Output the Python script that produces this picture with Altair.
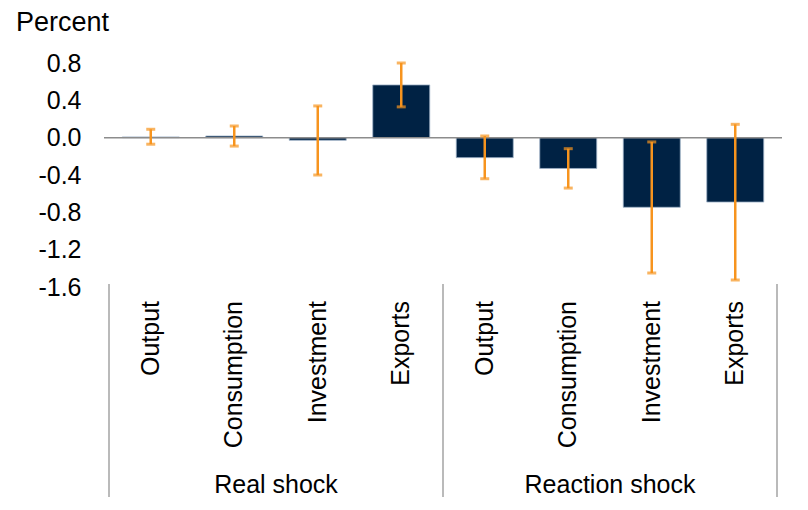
import altair as alt
import pandas as pd

shocks = ["Real shock", "Reaction shock"]
categories = ["Output", "Consumption", "Investment", "Exports"]
values = [0.008, 0.018, -0.028, 0.565, -0.214, -0.33, -0.746, -0.69]
lower = [-0.07, -0.09, -0.40, 0.33, -0.44, -0.54, -1.45, -1.525]
upper = [0.09, 0.125, 0.34, 0.80, 0.018, -0.118, -0.046, 0.143]
y_ticks = [-1.6, -1.2, -0.8, -0.4, 0.0, 0.4, 0.8]
group_bounds = [-0.5, 3.5, 7.5]

rows = []
for i in range(len(values)):
    rows.append({
        "idx": i,
        "shock": shocks[i // 4],
        "cat": categories[i % 4],
        "value": values[i],
        "lo": lower[i],
        "hi": upper[i],
    })
df = pd.DataFrame(rows)
bounds = pd.DataFrame({"b": group_bounds})

FONT = "Liberation Sans"
NAVY = "#002244"
ORANGE = "#F7941E"

xs = alt.Scale(domain=[-0.5, 7.5], nice=False, zero=False)
ys = alt.Scale(domain=[-1.6, 0.8], nice=False)
yaxis = alt.Axis(
    values=y_ticks,
    labelExpr="replace(format(datum.value, '.1f'), '\u2212', '-')",
    title=None,
)

base = alt.Chart(df)

bars = base.mark_bar(size=57, color=NAVY, stroke="#9fb3c8", strokeWidth=0.8).encode(
    x=alt.X("idx:Q", scale=xs, axis=None),
    y=alt.Y("value:Q", scale=ys, axis=yaxis),
)

zero = alt.Chart(pd.DataFrame({"z": [0]})).mark_rule(color="#8c8c8c", strokeWidth=1.5).encode(
    y=alt.Y("z:Q", scale=ys, axis=yaxis),
    x=alt.value(0),
    x2=alt.value(678),
)

err = base.mark_rule(color=ORANGE, strokeWidth=2.5).encode(
    x=alt.X("idx:Q", scale=xs, axis=None),
    y=alt.Y("lo:Q", scale=ys, axis=yaxis),
    y2="hi:Q",
)

cap_lo = base.mark_tick(color=ORANGE, orient="horizontal", size=9, thickness=3).encode(
    x=alt.X("idx:Q", scale=xs, axis=None),
    y=alt.Y("lo:Q", scale=ys, axis=yaxis),
)
cap_hi = base.mark_tick(color=ORANGE, orient="horizontal", size=9, thickness=3).encode(
    x=alt.X("idx:Q", scale=xs, axis=None),
    y=alt.Y("hi:Q", scale=ys, axis=yaxis),
)

cat_labels = base.mark_text(
    angle=270, align="right", baseline="middle", fontSize=25, font=FONT, color="black"
).encode(
    x=alt.X("idx:Q", scale=xs, axis=None),
    y=alt.value(238),
    text="cat:N",
)

group_labels = base.transform_aggregate(
    center="mean(idx)", groupby=["shock"]
).mark_text(
    align="center", baseline="alphabetic", fontSize=25, font=FONT, color="black"
).encode(
    x=alt.X("center:Q", scale=xs, axis=None),
    y=alt.value(430),
    text="shock:N",
)

seps = alt.Chart(bounds).mark_rule(color="#8c8c8c", strokeWidth=1.2).encode(
    x=alt.X("b:Q", scale=xs, axis=None),
    y=alt.value(221),
    y2=alt.value(434),
)

title = alt.Chart(pd.DataFrame({"t": ["Percent"]})).mark_text(
    align="left", baseline="alphabetic", fontSize=27, font=FONT, color="black"
).encode(
    x=alt.value(-88),
    y=alt.value(-32),
    text="t:N",
)

chart = alt.layer(
    bars, zero, err, cap_lo, cap_hi, cat_labels, group_labels, seps, title
).properties(
    width=678,
    height=224,
    autosize=alt.AutoSizeParams(type="none"),
    padding={"left": 96, "top": 55, "right": 18, "bottom": 213},
).configure_view(stroke=None).configure_axisY(
    labelFontSize=25,
    labelFont=FONT,
    labelColor="black",
    labelOverlap=False,
    labelBound=False,
    labelFlush=False,
    domain=False,
    ticks=False,
    grid=False,
    labelPadding=23,
)

chart.save("out.html", embed_options={"renderer": "svg", "actions": False})
